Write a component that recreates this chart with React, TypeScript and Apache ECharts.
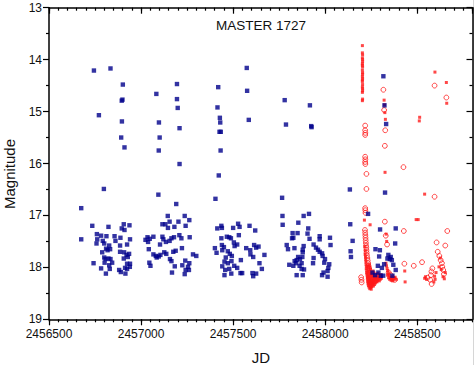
import React, { useEffect, useRef } from "react";
import * as echarts from "echarts";

const X_MIN = 2456500;
const X_MAX = 2458800;
const Y_MIN = 13;
const Y_MAX = 19;
const X_STEP = 500;
const X_MINOR = 50;
const Y_STEP = 1;

const TITLE = "MASTER 1727";
const X_NAME = "JD";
const Y_NAME = "Magnitude";

// Blue squares (archival MASTER photometry)
const blueSeason1: number[][] = [
  [2456675, 16.86], [2456675, 17.46], [2456744, 14.21], [2456771, 15.07], [2456798, 16.49], [2456834, 14.17],
  [2456901, 14.48], [2456895, 14.79], [2456899, 14.77], [2456896, 15.19], [2456892, 15.5], [2456910, 15.69],
  [2456735, 17.2], [2456823, 17.22], [2456906, 17.17], [2456937, 17.19], [2456895, 17.25], [2456910, 17.28],
  [2456760, 17.36], [2456783, 17.39], [2456812, 17.4], [2456856, 17.4], [2456888, 17.43], [2456940, 17.46],
  [2456762, 17.46], [2456792, 17.49], [2456758, 17.54], [2456800, 17.54], [2456861, 17.49], [2456827, 17.58],
  [2456886, 17.58], [2456924, 17.56], [2456810, 17.64], [2456818, 17.67], [2456832, 17.65], [2456789, 17.71],
  [2456886, 17.7], [2456908, 17.71], [2456921, 17.76], [2456935, 17.74], [2456800, 17.81], [2456807, 17.84],
  [2456823, 17.83], [2456834, 17.84], [2456906, 17.83], [2456928, 17.8], [2456742, 17.92], [2456802, 17.91],
  [2456827, 17.96], [2456843, 17.91], [2456924, 17.93], [2456940, 17.93], [2456783, 18.02], [2456830, 18.03],
  [2456809, 18.12], [2456881, 18.05], [2456890, 18.09], [2456913, 18.01], [2456924, 18.03], [2456915, 18.12],
  [2456939, 17.99],
];

const blueSeason2: number[][] = [
  [2457083, 14.66], [2457195, 14.47], [2457195, 14.76], [2457199, 14.93], [2457097, 15.21], [2457209, 15.32],
  [2457101, 15.5], [2457096, 15.75], [2457209, 16.01], [2457094, 16.6], [2457191, 16.78],
  [2457145, 17.01], [2457237, 17.01], [2457203, 17.12], [2457262, 17.09], [2457155, 17.12], [2457116, 17.17],
  [2457132, 17.17], [2457181, 17.22], [2457146, 17.24], [2457242, 17.2], [2457035, 17.42], [2457047, 17.45],
  [2457067, 17.41], [2457116, 17.41], [2457121, 17.46], [2457165, 17.44], [2457179, 17.42], [2457208, 17.38],
  [2457219, 17.44], [2457264, 17.42], [2457024, 17.47], [2457038, 17.51], [2457135, 17.51], [2457155, 17.49],
  [2457103, 17.56], [2457042, 17.65], [2457222, 17.63], [2457067, 17.75], [2457080, 17.78], [2457096, 17.79],
  [2457126, 17.71], [2457137, 17.74], [2457105, 17.76], [2457175, 17.7], [2457188, 17.68], [2457282, 17.75],
  [2457300, 17.78], [2457157, 17.84], [2457165, 17.88], [2457085, 17.81], [2457045, 17.91], [2457051, 17.97],
  [2457240, 17.87], [2457262, 17.92], [2457224, 17.96], [2457255, 17.99], [2457183, 17.98], [2457242, 18.05],
  [2457260, 18.05], [2457168, 18.1], [2457237, 18.13],
];

const blueSeason3: number[][] = [
  [2457419, 14.53], [2457574, 14.16], [2457576, 14.6], [2457415, 14.92], [2457428, 15.12], [2457430, 15.21],
  [2457426, 15.39], [2457433, 15.39], [2457585, 15.16], [2457432, 15.75], [2457422, 16.23], [2457404, 16.68],
  [2457414, 17.25], [2457436, 17.2], [2457439, 17.24], [2457500, 17.24], [2457527, 17.16], [2457535, 17.22],
  [2457589, 17.2], [2457620, 17.29], [2457436, 17.44], [2457466, 17.41], [2457479, 17.42], [2457488, 17.44],
  [2457531, 17.38], [2457401, 17.63], [2457410, 17.72], [2457439, 17.57], [2457450, 17.61], [2457441, 17.67],
  [2457504, 17.52], [2457522, 17.56], [2457508, 17.59], [2457571, 17.63], [2457593, 17.67], [2457614, 17.57],
  [2457625, 17.62], [2457638, 17.6], [2457471, 17.69], [2457482, 17.74], [2457493, 17.78], [2457594, 17.75],
  [2457609, 17.8], [2457670, 17.76], [2457460, 17.81], [2457453, 17.89], [2457471, 17.92], [2457491, 17.88],
  [2457506, 17.97], [2457542, 17.86], [2457522, 18.01], [2457441, 17.98], [2457457, 18.05], [2457479, 18.03],
  [2457540, 18.11], [2457549, 18.11], [2457605, 18.11], [2457625, 18.12], [2457643, 17.92], [2457656, 18.03],
  [2457453, 18.15], [2457490, 18.12], [2457609, 18.17],
];

const blueSeason4: number[][] = [
  [2457780, 14.78], [2457787, 15.25], [2457917, 14.88], [2457924, 15.28], [2457926, 15.3], [2457766, 16.66],
  [2457768, 17.01], [2457769, 17.18], [2457883, 17.01], [2457912, 16.97], [2457854, 17.14], [2457908, 17.25],
  [2457823, 17.34], [2457850, 17.34], [2457904, 17.35], [2457820, 17.44], [2457827, 17.43], [2457915, 17.45],
  [2457970, 17.4], [2457970, 17.46], [2458026, 17.43], [2457791, 17.57], [2457798, 17.65], [2457833, 17.63],
  [2457883, 17.59], [2457878, 17.66], [2457937, 17.56], [2457950, 17.62], [2457961, 17.66], [2458029, 17.57],
  [2457970, 17.7], [2457983, 17.73], [2457878, 17.71], [2457853, 17.8], [2457863, 17.84], [2457876, 17.8],
  [2457937, 17.82], [2457834, 17.88], [2457845, 17.86], [2457872, 17.92], [2457986, 17.78], [2457999, 17.84],
  [2457805, 17.95], [2457827, 17.97], [2457842, 17.92], [2457934, 17.92], [2457995, 17.91], [2457861, 17.97],
  [2457872, 18.03], [2457885, 18.04], [2458022, 17.94], [2458017, 18.01], [2457845, 18.15], [2457878, 18.15],
  [2457983, 18.15], [2457991, 18.1], [2458013, 18.07], [2458013, 18.18],
];

const blueSeason5: number[][] = [
  [2458134, 16.5], [2458136, 17.17], [2458149, 17.49], [2458138, 17.69], [2458140, 17.8], [2458233, 16.97],
  [2458316, 14.32], [2458322, 14.88], [2458331, 15.24], [2458325, 16.56], [2458298, 17.27], [2458383, 17.25],
  [2458380, 17.54], [2458273, 17.65], [2458297, 17.67], [2458293, 17.79], [2458343, 17.76], [2458356, 17.8],
  [2458338, 17.83], [2458351, 17.84], [2458362, 17.86], [2458320, 17.94], [2458370, 17.95], [2458286, 17.97],
  [2458308, 18.01], [2458257, 18.1], [2458271, 18.15], [2458302, 18.16], [2458315, 18.16], [2458365, 18.16],
  [2458383, 18.05], [2458289, 18.1],
];

// Red filled dots (recent photometry)
const redDots: number[][] = [
  [2458202, 13.73], [2458202, 13.87], [2458203, 13.91], [2458202, 13.97], [2458203, 14.0], [2458203, 14.04],
  [2458202, 14.08], [2458202, 14.11], [2458203, 14.14], [2458202, 14.2], [2458203, 14.25], [2458203, 14.28],
  [2458202, 14.32], [2458203, 14.36], [2458202, 14.39], [2458202, 14.42], [2458203, 14.48], [2458202, 14.53],
  [2458203, 14.56], [2458203, 14.6], [2458202, 14.63], [2458203, 14.76], [2458202, 14.79],
  [2458320, 14.78], [2458322, 14.87], [2458324, 15.02], [2458327, 15.15], [2458325, 16.17], [2458596, 14.24],
  [2458658, 14.44], [2458660, 14.84], [2458513, 15.11], [2458511, 15.18], [2458213, 17.09], [2458244, 17.18],
  [2458331, 17.36], [2458334, 17.5], [2458432, 18.07], [2458434, 18.28], [2458494, 17.08], [2458505, 17.08],
  [2458540, 16.59],
  [2458540, 18.21], [2458545, 18.18], [2458550, 18.23], [2458594, 18.17], [2458597, 18.23], [2458618, 17.99],
  [2458630, 18.04], [2458640, 18.18], [2458647, 18.22], [2458602, 18.1], [2458590, 18.28], [2458652, 18.1],
  [2458625, 17.82],
  [2458216, 17.6], [2458218, 17.68], [2458217, 17.75], [2458219, 17.8], [2458220, 17.85], [2458221, 17.9],
  [2458222, 17.95], [2458224, 17.99], [2458223, 18.03], [2458226, 18.06], [2458225, 18.1], [2458228, 18.12],
  [2458227, 18.15], [2458230, 18.18], [2458229, 18.21], [2458232, 18.24], [2458231, 18.27], [2458234, 18.3],
  [2458238, 18.38], [2458246, 18.39], [2458253, 18.37], [2458242, 18.41], [2458250, 18.42],
  [2458235, 18.35], [2458241, 18.34], [2458249, 18.36], [2458257, 18.34], [2458262, 18.36],
  [2458233, 18.32], [2458240, 18.31], [2458247, 18.33], [2458254, 18.31], [2458260, 18.32], [2458268, 18.33],
  [2458237, 18.29], [2458244, 18.28], [2458251, 18.3], [2458258, 18.28], [2458265, 18.29], [2458273, 18.3], [2458281, 18.28],
  [2458234, 18.26], [2458241, 18.25], [2458248, 18.27], [2458256, 18.25], [2458263, 18.26], [2458270, 18.24],
  [2458278, 18.27], [2458286, 18.25], [2458294, 18.26],
  [2458238, 18.23], [2458245, 18.22], [2458252, 18.24], [2458259, 18.21], [2458266, 18.23], [2458275, 18.22],
  [2458283, 18.23], [2458291, 18.21], [2458299, 18.23],
  [2458231, 18.2], [2458240, 18.19], [2458248, 18.2], [2458256, 18.18], [2458265, 18.2], [2458273, 18.19],
  [2458281, 18.2], [2458289, 18.18], [2458297, 18.19], [2458305, 18.21],
  [2458234, 18.17], [2458243, 18.16], [2458251, 18.15], [2458261, 18.17], [2458270, 18.15], [2458279, 18.17],
  [2458295, 18.16], [2458302, 18.14],
  [2458236, 18.13], [2458245, 18.12], [2458254, 18.13], [2458266, 18.11], [2458285, 18.12],
  [2458232, 18.09], [2458241, 18.08], [2458250, 18.1], [2458260, 18.07],
  [2458238, 18.05], [2458246, 18.04], [2458235, 18.01], [2458243, 18.0], [2458233, 17.97], [2458240, 17.95],
  [2458330, 17.92], [2458333, 17.97], [2458336, 18.02], [2458339, 18.06], [2458342, 18.1], [2458345, 18.13],
  [2458348, 18.16], [2458352, 18.19], [2458356, 18.21], [2458360, 18.22], [2458365, 18.2], [2458370, 18.24],
  [2458375, 18.22], [2458380, 18.19], [2458338, 18.15], [2458344, 18.2], [2458350, 18.23], [2458358, 18.25],
  [2458366, 18.26], [2458386, 18.23],
];

// Red open circles
const redCircles: number[][] = [
  [2458217, 15.27], [2458217, 15.36], [2458218, 15.41], [2458217, 15.45], [2458217, 15.87], [2458218, 15.92],
  [2458217, 15.97], [2458218, 16.01], [2458224, 16.2], [2458224, 16.49], [2458217, 16.86], [2458218, 16.9],
  [2458219, 16.95],
  [2458216, 17.28], [2458217, 17.33], [2458218, 17.38], [2458219, 17.43], [2458220, 17.48], [2458221, 17.53],
  [2458222, 17.58], [2458223, 17.62], [2458224, 17.67], [2458225, 17.72], [2458227, 17.77], [2458229, 17.82],
  [2458231, 17.87], [2458233, 17.92], [2458235, 17.97], [2458238, 18.02],
  [2458195, 18.19], [2458197, 18.24], [2458198, 18.29],
  [2458316, 14.58], [2458320, 14.97], [2458326, 15.36], [2458324, 15.66], [2458425, 16.07], [2458594, 14.5],
  [2458658, 14.73], [2458324, 17.12], [2458329, 17.39], [2458336, 17.56], [2458427, 17.3], [2458663, 17.3],
  [2458605, 17.52], [2458652, 17.58], [2458594, 16.64], [2458430, 17.93], [2458481, 17.97], [2458526, 17.9],
  [2458611, 17.7], [2458620, 17.78], [2458627, 17.86], [2458634, 17.92], [2458636, 17.99], [2458641, 18.05],
  [2458645, 18.13], [2458582, 18.02], [2458577, 18.08], [2458574, 18.15], [2458570, 18.24], [2458578, 18.32],
  [2458556, 18.2], [2458356, 18.15], [2458366, 18.2], [2458378, 18.24], [2458345, 18.1],
];

const FONT = "'Liberation Sans', Arial, Helvetica, sans-serif";
const BLUE = "#00008b";
const RED = "#ff1a1a";

export default function App() {
  const ref = useRef<HTMLDivElement>(null);

  useEffect(() => {
    if (!ref.current) return;
    const chart = echarts.init(ref.current, null, { renderer: "svg" });

    const lineStyle = { color: "#000", width: 1.5 };
    const tickStyle = { color: "#000", width: 1.2 };
    const GRID_LEFT = 49;
    const GRID_TOP = 7.7;
    const GRID_RIGHT = 1.5;
    const GRID_BOTTOM = 45.7;

    const baseX = { type: "value" as const, min: X_MIN, max: X_MAX, splitLine: { show: false } };
    const baseY = { type: "value" as const, min: Y_MIN, max: Y_MAX, interval: Y_STEP, inverse: true, splitLine: { show: false } };

    const blueAll = [...blueSeason1, ...blueSeason2, ...blueSeason3, ...blueSeason4, ...blueSeason5];

    chart.setOption({
      animation: false,
      backgroundColor: "#ffffff",
      grid: { left: GRID_LEFT, top: GRID_TOP, right: GRID_RIGHT, bottom: GRID_BOTTOM, containLabel: false },
      xAxis: [
        {
          ...baseX,
          position: "bottom",
          interval: X_STEP,
          axisLine: { show: true, onZero: false, lineStyle },
          axisTick: { show: true, inside: false, length: 6, lineStyle: tickStyle },
          axisLabel: {
            show: true,
            margin: 9,
            fontSize: 12,
            color: "#111",
            fontFamily: FONT,
            showMaxLabel: false,
            formatter: (v: number) => (v % X_STEP === 0 ? String(v) : ""),
          },
        },
        {
          ...baseX,
          position: "bottom",
          interval: X_MINOR,
          axisLine: { show: false, onZero: false },
          axisTick: { show: true, inside: false, length: 3, lineStyle: tickStyle },
          axisLabel: { show: false },
        },
        {
          ...baseX,
          position: "top",
          interval: X_STEP,
          axisLine: { show: true, onZero: false, lineStyle },
          axisTick: { show: true, inside: true, length: 6, lineStyle: tickStyle },
          axisLabel: { show: false },
        },
        {
          ...baseX,
          position: "top",
          interval: X_MINOR,
          axisLine: { show: false, onZero: false },
          axisTick: { show: true, inside: true, length: 3, lineStyle: tickStyle },
          axisLabel: { show: false },
        },
      ],
      yAxis: [
        {
          ...baseY,
          position: "left",
          axisLine: { show: true, onZero: false, lineStyle },
          axisTick: { show: true, inside: false, length: 6, lineStyle: tickStyle },
          minorTick: { show: true, splitNumber: 2, length: 3, lineStyle: tickStyle },
          axisLabel: { show: true, margin: 7, fontSize: 12, color: "#111", fontFamily: FONT },
        },
        {
          ...baseY,
          position: "right",
          axisLine: { show: true, onZero: false, lineStyle },
          axisTick: { show: true, inside: true, length: 6, lineStyle: tickStyle },
          minorTick: { show: true, splitNumber: 2, length: 3, lineStyle: tickStyle },
          axisLabel: { show: false },
        },
      ],
      series: [
        {
          name: "red dots",
          type: "scatter",
          xAxisIndex: 0,
          yAxisIndex: 0,
          data: redDots,
          symbol: "rect",
          symbolSize: 3,
          itemStyle: { color: RED },
        },
        {
          name: "red circles",
          type: "scatter",
          xAxisIndex: 0,
          yAxisIndex: 0,
          data: redCircles,
          symbol: "circle",
          symbolSize: 4.8,
          itemStyle: { color: "rgba(255,255,255,0)", borderColor: RED, borderWidth: 1 },
        },
        {
          name: "blue squares",
          type: "scatter",
          xAxisIndex: 0,
          yAxisIndex: 0,
          data: blueAll,
          symbol: "rect",
          symbolSize: 4.4,
          itemStyle: { color: BLUE },
        },
      ],
      graphic: [
        {
          type: "text",
          x: 261,
          y: 25,
          style: {
            text: TITLE,
            align: "center",
            verticalAlign: "middle",
            textAlign: "center",
            textVerticalAlign: "middle",
            fontSize: 13.5,
            fontFamily: FONT,
            fill: "#111",
          },
        },
        {
          type: "text",
          x: 9,
          y: 174,
          rotation: Math.PI / 2,
          style: {
            text: Y_NAME,
            align: "center",
            verticalAlign: "middle",
            textAlign: "center",
            textVerticalAlign: "middle",
            fontSize: 15,
            fontFamily: FONT,
            fill: "#111",
          },
        },
        {
          type: "text",
          x: 261,
          y: 357,
          style: {
            text: X_NAME,
            align: "center",
            verticalAlign: "middle",
            textAlign: "center",
            textVerticalAlign: "middle",
            fontSize: 15,
            fontFamily: FONT,
            fill: "#111",
          },
        },
        {
          type: "rect",
          shape: { x: 473, y: 0, width: 1, height: 365 },
          style: { fill: "#d6d6d6" },
          silent: true,
        },
      ],
    });

    return () => chart.dispose();
  }, []);

  return (
    <div
      ref={ref}
      style={{ position: "fixed", left: 0, top: 0, width: 474, height: 365, background: "#fff" }}
    />
  );
}
